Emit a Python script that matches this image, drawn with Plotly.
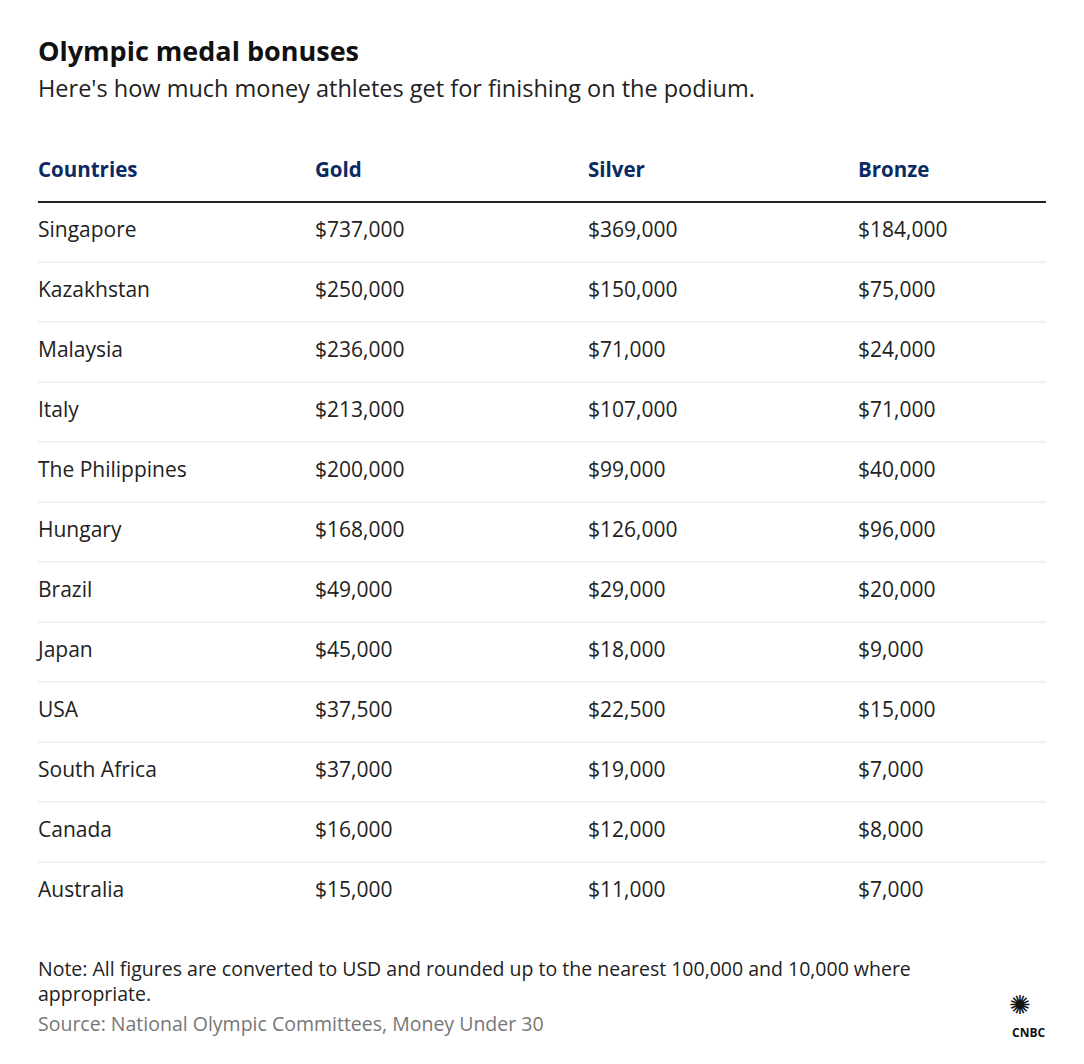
import plotly.graph_objects as go

countries = ["Singapore","Kazakhstan","Malaysia","Italy","The Philippines","Hungary","Brazil","Japan","USA","South Africa","Canada","Australia"]
gold = ["$737,000","$250,000","$236,000","$213,000","$200,000","$168,000","$49,000","$45,000","$37,500","$37,000","$16,000","$15,000"]
silver = ["$369,000","$150,000","$71,000","$107,000","$99,000","$126,000","$29,000","$18,000","$22,500","$19,000","$12,000","$11,000"]
bronze = ["$184,000","$75,000","$24,000","$71,000","$40,000","$96,000","$20,000","$9,000","$15,000","$7,000","$8,000","$7,000"]
headers = ["Countries","Gold","Silver","Bronze"]

W, H = 1084, 1064
OX, OY = 8, 6  # page offset
colx = [38 - OX, 315 - OX, 588 - OX, 858 - OX]
row0, rowh = 230 - OY, 60
FONT = "Open Sans"
n = len(countries)
ys = [row0 + rowh * i for i in range(n)]

fig = go.Figure()
for i in range(n - 1):
    yy = ys[i] + rowh / 2
    fig.add_trace(go.Scatter(x=[38 - OX, 1046 - OX], y=[yy, yy], mode="lines",
                             line=dict(color="#e3e3e3", width=1), hoverinfo="skip"))
fig.add_trace(go.Scatter(x=[38 - OX, 1046 - OX], y=[200 - OY, 200 - OY], mode="lines",
                         line=dict(color="#222", width=2), hoverinfo="skip"))
for cx, col in zip(colx, [countries, gold, silver, bronze]):
    fig.add_trace(go.Scatter(x=[cx] * n, y=ys, text=col, mode="text",
                             textposition="middle right",
                             textfont=dict(family=FONT, size=21, color="#222")))
fig.add_trace(go.Scatter(x=colx, y=[170 - OY] * 4, text=[f"<b>{h}</b>" for h in headers],
                         mode="text", textposition="middle right",
                         textfont=dict(family=FONT, size=20.5, color="#0b2a63")))

def ann(x, y, t, size, color, xa="left"):
    fig.add_annotation(x=x - OX, y=y - OY, text=t, showarrow=False, xanchor=xa, yanchor="middle",
                       font=dict(family=FONT, size=size, color=color), xref="x", yref="y")

ann(36, 48, "<b>Olympic medal bonuses</b>", 27, "#111")
ann(36, 86, "Here's how much money athletes get for finishing on the podium.", 23.5, "#222")
ann(36, 966, "Note: All figures are converted to USD and rounded up to the nearest 100,000 and 10,000 where", 19.5, "#222")
ann(36, 991, "appropriate.", 19.5, "#222")
ann(36, 1021, "Source: National Olympic Committees, Money Under 30", 19.5, "#777")
ann(1047, 1030, "<b>CNBC</b>", 12, "#111", xa="right")
ann(1020, 1002, "✺", 26, "#111", xa="center")

fig.update_layout(width=W, height=H, margin=dict(l=0, r=0, t=0, b=0),
                  paper_bgcolor="white", plot_bgcolor="white", showlegend=False,
                  xaxis=dict(range=[0, W], visible=False, fixedrange=True),
                  yaxis=dict(range=[H, 0], visible=False, fixedrange=True))
fig.write_html("out.html")
